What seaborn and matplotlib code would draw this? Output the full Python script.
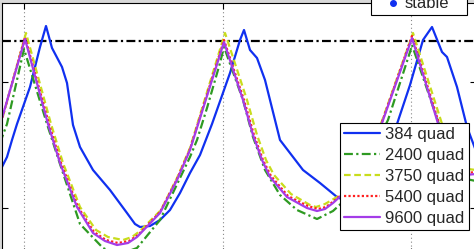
import numpy as np
import pandas as pd
import matplotlib
matplotlib.use("Agg")
import matplotlib.pyplot as plt
from matplotlib.lines import Line2D
import seaborn as sns

sns.set_theme(style="white")
plt.rcParams["font.family"] = ["Liberation Sans", "DejaVu Sans"]

# ---------------- data ----------------
x_384 = [0, 7, 12, 17, 30, 40, 46, 52, 62, 67, 73, 80, 93, 110, 127, 135, 140, 150, 160, 170, 180, 190, 200, 212,
         230, 240, 244, 250, 257, 265, 270, 280, 303, 320, 337, 350, 365, 380, 395, 410, 423, 432, 442, 447, 457, 467, 476]
y_384 = [78, 92, 109, 125, 162, 202, 223, 201, 182, 166, 124, 102, 79, 59, 36, 25, 22, 23, 29, 39, 56, 76, 94, 125,
         176, 209, 219, 199, 191, 169, 149, 109, 79, 66, 52, 46, 59, 84, 119, 164, 209, 222, 197, 192, 162, 122, 98]

x_2400 = [0, 7, 24, 47, 60, 80, 103, 118, 137, 160, 190, 197, 207, 220, 224, 243, 253, 265, 280, 297, 317, 333, 345,
          360, 388, 410, 412, 441, 456, 466, 476]
y_2400 = [106, 125, 200, 125, 85, 25, 1, -6, 1, 29, 92, 109, 141, 186, 202, 149, 112, 79, 54, 39, 30, 38, 49,
          72, 129, 197, 204, 119, 82, 70, 68]

x_3750 = [0, 26, 51, 63, 80, 96, 108, 123, 132, 140, 161, 177, 190, 225, 247, 257, 266, 274, 291, 310, 316, 325, 337,
          348, 361, 382, 413, 443, 458, 468, 476]
y_3750 = [122, 216, 125, 86, 42, 19, 12, 9, 12, 18, 39, 71, 101, 216, 149, 114, 89, 74, 55, 44, 42, 45, 52,
          61, 84, 128, 216, 122, 87, 80, 79]

x_5400 = [0, 25, 49, 61, 78, 94, 106, 118, 129, 138, 160, 177, 190, 224, 244, 254, 263, 271, 288, 308, 318, 326, 334,
          345, 360, 382, 412, 441, 456, 466, 476]
y_5400 = [123, 212, 125, 86, 42, 17, 9, 6, 8, 14, 37, 70, 100, 209, 149, 114, 89, 73, 53, 43, 40, 42, 48,
          58, 82, 127, 213, 119, 85, 76, 77]

x_9600 = [0, 25, 48, 60, 77, 93, 105, 117, 128, 137, 160, 177, 190, 224, 243, 253, 262, 270, 287, 307, 317, 325, 333,
          345, 360, 382, 412, 440, 455, 465, 476]
y_9600 = [124, 210, 125, 86, 42, 16, 8, 4, 6, 12, 36, 69, 99, 207, 149, 114, 89, 72, 52, 41, 38, 40, 46,
          57, 81, 126, 211, 119, 84, 74, 75]

labels = ["384 quad", "2400 quad", "3750 quad", "5400 quad", "9600 quad"]
stable_label = "stable"
stable_level = 208
x_ticks = [24, 223, 411]
y_ticks = [41, 167]

series = [(x_384, y_384), (x_2400, y_2400), (x_3750, y_3750), (x_5400, y_5400), (x_9600, y_9600)]
colors = ["#1030f0", "#2e9a22", "#c8dc1c", "#ff2020", "#a43ce8"]
styles = ["-", (0, (4, 1.5, 1, 1.5)), (0, (3, 1.6)), (0, (1, 1)), "-"]

# ---------------- figure ----------------
W, H = 474, 249
fig = plt.figure(figsize=(W / 100, H / 100), dpi=100, facecolor="#d9d9d9")
ax = fig.add_axes([2 / W, -5 / H, 474 / W, 251 / H])
ax.set_facecolor("white")

for (xs, ys), lab, c, ls in zip(series, labels, colors, styles):
    df = pd.DataFrame({"x": xs, "y": ys})
    sns.lineplot(data=df, x="x", y="y", ax=ax, color=c, linestyle=ls, lw=1.6,
                 label=lab, estimator=None, sort=False, legend=False)

ax.axhline(stable_level, color="black", lw=1.6, linestyle=(0, (4, 1.5, 1, 1.5)), zorder=1)

ax.set_xlim(2, 476)
ax.set_ylim(-5, 246)
ax.set_xticks(x_ticks)
ax.set_yticks(y_ticks)
ax.tick_params(direction="in", length=4, width=0.8, color="black",
               top=True, bottom=True, left=True, right=True,
               labelbottom=False, labelleft=False)
ax.set_xlabel("")
ax.set_ylabel("")
ax.grid(axis="x", color="#888888", linestyle=(0, (1, 2.5)), lw=0.8)
ax.grid(axis="y", visible=False)
for s in ax.spines.values():
    s.set_color("black")
    s.set_linewidth(0.8)

handles = [Line2D([], [], color=c, linestyle=ls, lw=1.6) for c, ls in zip(colors, styles)]
leg = ax.legend(handles, labels, loc="lower right", bbox_to_anchor=(0.985, 0.0956),
                fontsize=12, frameon=True, fancybox=False, framealpha=1, edgecolor="black",
                handlelength=2.2, handletextpad=0.3, labelspacing=0.36, borderpad=0.25,
                borderaxespad=0)
leg.get_frame().set_linewidth(0.8)
ax.add_artist(leg)

h_stable = Line2D([], [], color="#1030f0", marker=".", linestyle="none", markersize=8)
x0 = (371 - 2) / 474
w = (467 - 371) / 474
leg2 = ax.legend([h_stable], [stable_label], loc="lower left", bbox_to_anchor=(x0, 0.953, w, 0.1),
                 mode="expand", fontsize=12, frameon=True, fancybox=False, framealpha=1,
                 edgecolor="black", handlelength=2.2, handletextpad=-0.4, borderpad=0.2,
                 borderaxespad=0)
leg2.get_frame().set_linewidth(0.8)

fig.savefig("out.png", dpi=100, facecolor=fig.get_facecolor())
